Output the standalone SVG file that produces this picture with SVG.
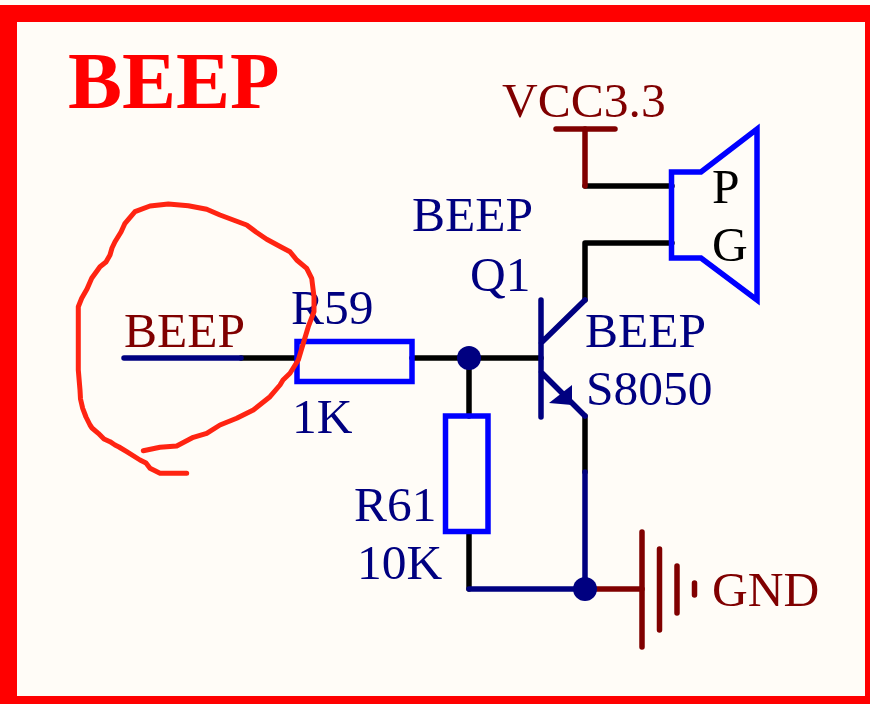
<svg xmlns="http://www.w3.org/2000/svg" width="870" height="704" viewBox="0 0 870 704">
<style>
text{font-family:"Liberation Serif","Times New Roman",serif;font-size:49.5px}
.n{fill:#000080}.m{fill:#800000}.k{fill:#000}
.w{fill:none;stroke-width:5.5;stroke-linecap:round;stroke-linejoin:round}
.bk{stroke:#000}.nv{stroke:#000080}.mr{stroke:#800000}
.b{fill:none;stroke:#0000ff;stroke-width:5.5;stroke-linejoin:miter}
</style>
<rect width="870" height="704" fill="#fffcf7"/>
<path d="M0 5H870V704H0Z M17 22V696H865V22Z" fill="#ff0000" fill-rule="evenodd"/>
<text id="title" x="68" y="108" style="font-size:81px;font-weight:bold" fill="#ff0000">BEEP</text>
<g id="connectors">
<path class="w bk" d="M241 358H297M412 358H541M469 358V416M469 532V589M585 300V243H672M585 186H672M585 416V472"/>
<path class="w nv" d="M124 358H241M469 589H585M585 472V589"/>
<path class="w mr" d="M585 129V186M585 589H642"/>
</g>
<g id="net-beep"><text class="m" x="124" y="347">BEEP</text></g>
<g id="R59">
<rect class="b" x="297" y="341.5" width="115" height="40"/>
<text class="n" x="291" y="324">R59</text>
<text class="n" x="292" y="433">1K</text>
</g>
<g id="R61">
<rect class="b" x="445.5" y="416" width="42.5" height="115.5"/>
<text class="n" x="354" y="521">R61</text>
<text class="n" x="357" y="579">10K</text>
</g>
<g id="J1"><circle cx="469" cy="358" r="12" fill="#000080"/></g>
<g id="J2"><circle cx="585" cy="589" r="12" fill="#000080"/></g>
<g id="Q1">
<path class="w nv" d="M541 300V417M541 343L585 300M541 372L585 416"/>
<path d="M549 403L572 385V405Z" fill="#000080"/>
<text class="n" x="412" y="231">BEEP</text>
<text class="n" x="470" y="291">Q1</text>
<text class="n" x="585" y="347">BEEP</text>
<text class="n" x="586" y="405">S8050</text>
</g>
<g id="speaker">
<path class="b" d="M671.500 172H701L757 129V300L701 258H671.500Z"/>
<text class="k" x="712" y="203">P</text>
<text class="k" x="712" y="261">G</text>
</g>
<g id="VCC">
<path class="w mr" d="M556 129H615"/>
<text class="m" x="502" y="117">VCC3.3</text>
</g>
<g id="GND">
<path class="w mr" d="M642 532V647M659.500 549V630M677 566V613M694.500 583V595"/>
<text class="m" x="712" y="606">GND</text>
</g>
<path id="scribble" fill="none" stroke="#ff2412" stroke-width="5" stroke-linecap="round" stroke-linejoin="round" d="M186.700 473.300L160 473.300 150 468.300 146 463 140 460 126.700 451.700 119 447 115 445 110 441.700 104 439 98.300 433.300 92 428 90 425 86 417 82.700 408.300 80.500 399 80 390 78.300 370 78.300 306.700 81.700 298.300 87 289 91.700 278.300 100 266.700 106 262 110 255 112 248 115 241.700 121 232 125 223.300 135 211.700 150 206 168.300 204 188.300 205.700 206.700 209.300 220 215 246.700 225 256 232 266.700 239.300 281 247 290 251.700 296.700 260 306.700 268.300 311.700 278.300 314 296.700 314 311.700 308.300 326.700 303.300 343.300 298.300 360 290 373.300 283 380 280 385 270 396.700 253.300 410 236.700 418.300 220 425 206.700 433.300 193.300 437.300 176.700 446 160 447.300 143.300 450.700"/>
</svg>
